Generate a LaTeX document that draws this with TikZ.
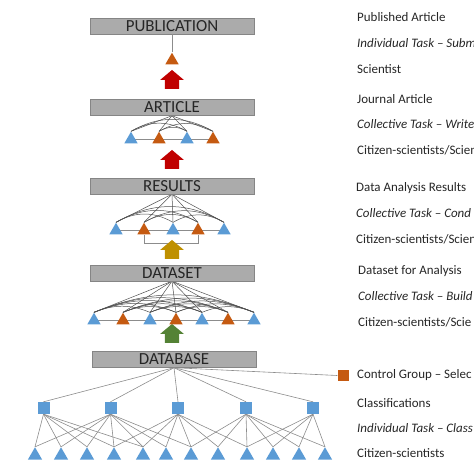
\documentclass[tikz,border=0pt]{standalone}
\usepackage{fontspec}
\setmainfont{Carlito}
\usetikzlibrary{shapes.geometric, shapes.arrows, backgrounds}
\definecolor{nodeblue}{HTML}{5B9BD5}
\definecolor{nodeorange}{HTML}{C55A11}
\definecolor{boxgray}{HTML}{ABABAB}
\definecolor{boxedge}{HTML}{858585}
\definecolor{linkgray}{HTML}{8C8C8C}
\definecolor{arcgray}{HTML}{505050}
\definecolor{arrowred}{HTML}{C00000}
\definecolor{arrowgold}{HTML}{BF9000}
\definecolor{arrowgreen}{HTML}{548235}
\definecolor{textdark}{HTML}{262626}

\begin{document}
\begin{tikzpicture}[x=1bp, y=-1bp,
  level/.style={draw=boxedge, fill=boxgray, minimum width=164bp, minimum height=16bp, inner sep=0pt, text=textdark, font=\fontsize{17}{17}\selectfont},
  agent/.style={regular polygon, regular polygon sides=3, minimum size=15.5bp, inner sep=0pt, fill=#1},
  unit/.style={rectangle, minimum size=12bp, inner sep=0pt, fill=#1},
  bigarrow/.style={single arrow, fill=#1, rotate=90, minimum height=19bp, inner xsep=0pt, inner ysep=7bp, single arrow head extend=4.5bp, single arrow tip angle=100},
  link/.style={draw=linkgray, line width=0.6bp},
  arc/.style={draw=arcgray, line width=0.5bp},
  info/.style={anchor=west, inner sep=0pt, text=textdark, font=\fontsize{13}{15}\selectfont}
]
\useasboundingbox (0,0) rectangle (474,474);

% Levels
\node[level] (pub) at (172, 26) {PUBLICATION};
\node[level] (art) at (172, 107.5) {ARTICLE};
\node[level] (res) at (172, 186) {RESULTS};
\node[level] (dat) at (172, 273) {DATASET};
\node[level] (db) at (174, 359.5) {DATABASE};

% Arrows between levels
\node[bigarrow=arrowred] (up1) at (172, 82.5) {};
\node[bigarrow=arrowred] (up2) at (172, 162.5) {};
\node[bigarrow=arrowgold] (up3) at (172, 252.5) {};
\node[bigarrow=arrowgreen] (up4) at (172, 336.5) {};

% Publication
\node[agent=nodeorange] (pt) at (172, 60.5) {};
\draw[link] (pub.south) -- (pt.corner 1);

% Article
\foreach \i/\x/\c in {1/131/nodeblue, 2/159/nodeorange, 3/187/nodeblue, 4/213/nodeorange} {
    \node[agent=\c] (at\i) at (\x, 139.5) {};
}
\begin{scope}[on background layer]
\draw[link] (at1.center) -- (at4.center);
\foreach \i in {1,2,3,4} {
    \draw[arc] (art.south) -- (at\i.corner 1);
}
\foreach \i/\j in {1/3, 1/4, 2/4, 2/3} {
    \draw[arc] (at\i.corner 1) to[bend left=30] (at\j.corner 1);
}
\end{scope}

% Results
\foreach \i/\x/\c in {1/116/nodeblue, 2/144/nodeorange, 3/173/nodeblue, 4/198/nodeorange, 5/224/nodeblue} {
    \node[agent=\c] (rt\i) at (\x, 230.5) {};
}
\begin{scope}[on background layer]
\draw[link] (rt1.center) -- (rt5.center);
\draw[link] (rt2.south) -- ++(0, 9) -| (rt4.south);
\foreach \i in {1,2,3,4,5} {
    \draw[arc] (res.south) -- (rt\i.corner 1);
}
\foreach \i/\j in {1/3, 1/4, 1/5, 2/4, 2/5, 3/5} {
    \draw[arc] (rt\i.corner 1) to[bend left=30] (rt\j.corner 1);
}
\end{scope}

% Dataset
\foreach \i/\x/\c in {1/94/nodeblue, 2/123/nodeorange, 3/150/nodeblue, 4/176/nodeorange, 5/202/nodeblue, 6/228/nodeorange, 7/254/nodeblue} {
    \node[agent=\c] (dt\i) at (\x, 320.5) {};
}
\begin{scope}[on background layer]
\draw[link] (dt1.center) -- (dt7.center);
\foreach \i in {1,...,7} {
    \draw[arc] (dat.south) -- (dt\i.corner 1);
}
\foreach \i/\j in {1/3, 1/4, 1/5, 1/6, 1/7, 2/4, 2/5, 2/6, 2/7, 3/5, 3/6, 3/7, 4/6, 4/7, 5/7} {
    \draw[arc] (dt\i.corner 1) to[bend left=22] (dt\j.corner 1);
}
\end{scope}

% Database, control group and classifications
\node[unit=nodeorange, minimum size=11bp] (ctrl) at (343, 375.5) {};
\draw[link] (db.south) -- (ctrl.west);
\foreach \s/\x in {1/43.5, 2/110.5, 3/178, 4/246, 5/313} {
    \node[unit=nodeblue] (sq\s) at (\x, 408) {};
    \draw[link] (db.south) -- (sq\s.north);
}
\foreach \i/\x in {1/35, 2/61, 3/87, 4/114, 5/143, 6/166, 7/191, 8/218, 9/247, 10/273, 11/299, 12/325} {
    \node[agent=nodeblue, minimum size=16.5bp] (ct\i) at (\x, 455.5) {};
}
\begin{scope}[on background layer]
\foreach \s/\targets in {1/{1,2,3,4,5}, 2/{1,2,3,4,5,6,7}, 3/{4,5,6,7,8,9}, 4/{7,8,9,10,11,12}, 5/{9,10,11,12}} {
    \foreach \t in \targets {
        \draw[link] (sq\s.south) -- (ct\t.corner 1);
    }
}
\end{scope}

% Descriptions
\node[info] (d1) at (357, 17) {Published Article};
\node[info] (d2) at (357, 43) {\itshape Individual Task – Subm};
\node[info] (d3) at (357, 69) {Scientist};
\node[info] (d4) at (357, 99) {Journal Article};
\node[info] (d5) at (357, 124) {\itshape Collective Task – Write};
\node[info] (d6) at (357, 150) {Citizen-scientists/Scien};
\node[info] (d7) at (356, 188) {Data Analysis Results};
\node[info] (d8) at (356, 213) {\itshape Collective Task – Cond};
\node[info] (d9) at (356, 239) {Citizen-scientists/Scien};
\node[info] (d10) at (358, 271) {Dataset for Analysis};
\node[info] (d11) at (358, 296) {\itshape Collective Task – Build};
\node[info] (d12) at (358, 322) {Citizen-scientists/Scie};
\node[info] (d13) at (357, 375) {Control Group – Selec};
\node[info] (d14) at (357, 403) {Classifications};
\node[info] (d15) at (357, 428) {\itshape Individual Task – Class};
\node[info] (d16) at (357, 453) {Citizen-scientists};
\end{tikzpicture}
\end{document}
